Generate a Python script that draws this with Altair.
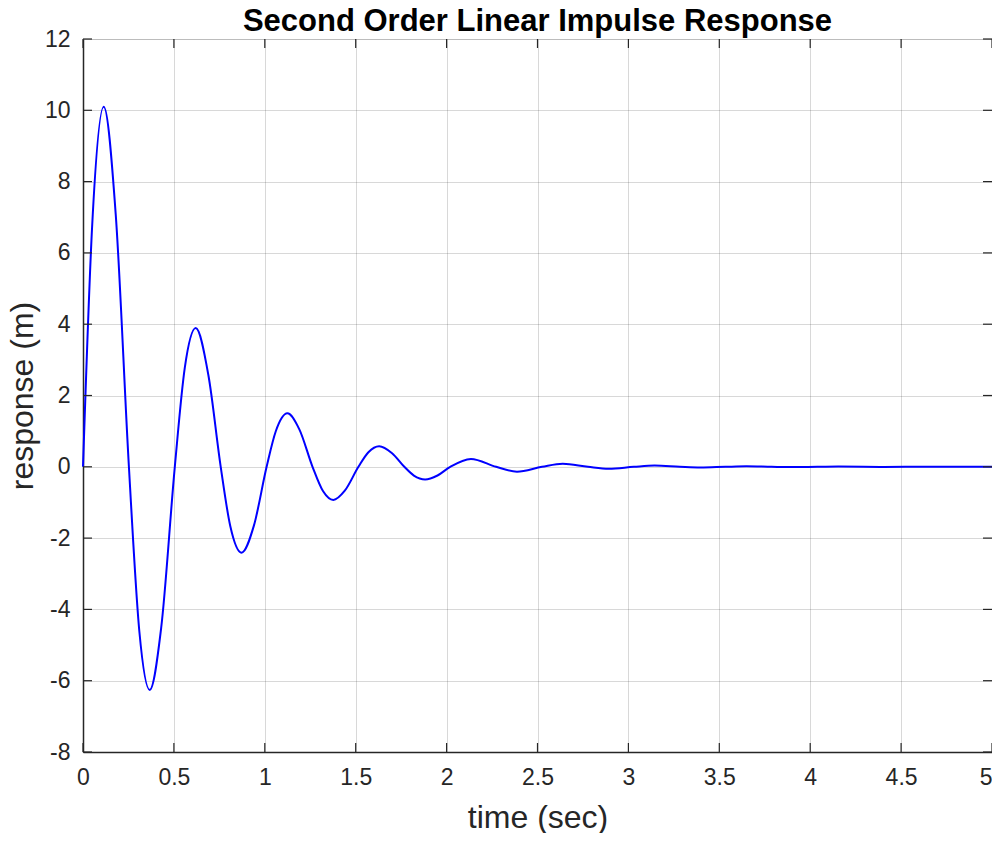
import altair as alt
import pandas as pd

# values (peaks, zero crossings and shoulders)
time_s = [0.0, 0.05, 0.114, 0.18, 0.2525, 0.31, 0.367, 0.43, 0.505, 0.56, 0.62, 0.69,
          0.7575, 0.81, 0.872, 0.94, 1.01, 1.06, 1.124, 1.19, 1.2625, 1.32, 1.377, 1.44,
          1.515, 1.57, 1.629, 1.70, 1.7675, 1.82, 1.882, 1.95, 2.02, 2.134, 2.2725, 2.387,
          2.525, 2.639, 2.7775, 2.892, 3.03, 3.144, 3.2825, 3.397, 3.535, 3.649, 3.7875,
          3.902, 4.04, 4.154, 4.2925, 4.407, 4.545, 4.66, 4.80, 5.0]
response_m = [0.0, 6.72, 10.1, 7.08, 0.0, -4.62, -6.26, -4.52, 0.0, 2.78, 3.89, 2.56,
              0.0, -1.66, -2.41, -1.65, 0.0, 0.99, 1.50, 1.05, 0.0, -0.68, -0.93, -0.67,
              0.0, 0.41, 0.576, 0.38, 0.0, -0.246, -0.357, -0.244, 0.0, 0.222, 0.0, -0.138,
              0.0, 0.086, 0.0, -0.053, 0.0, 0.033, 0.0, -0.020, 0.0, 0.013, 0.0,
              -0.008, 0.0, 0.005, 0.0, -0.003, 0.0, 0.002, 0.0, 0.0]

x_ticks = [0, 0.5, 1, 1.5, 2, 2.5, 3, 3.5, 4, 4.5, 5]
y_ticks = [-8, -6, -4, -2, 0, 2, 4, 6, 8, 10, 12]

title_text = "Second Order Linear Impulse Response"
x_title = "time (sec)"
y_title = "response (m)"

W, H = 909, 713
FONT = "Liberation Sans"
INK = "#262626"

df = pd.DataFrame({"t": time_s, "r": response_m})
xt = pd.DataFrame({"v": x_ticks})
yt = pd.DataFrame({"v": y_ticks})
tt = pd.DataFrame({"label": [title_text]})

xscale = alt.Scale(domain=[0, 5], nice=False, zero=False)
yscale = alt.Scale(domain=[-8, 12], nice=False, zero=False)

common = dict(domain=True, domainColor=INK, domainWidth=1.5, ticks=False, tickSize=0,
              labelFontSize=23, labelColor=INK, labelFont=FONT,
              labelExpr="'' + datum.value",
              titleFontSize=32, titleFont=FONT, titleColor=INK, titleFontWeight="normal",
              titleBaseline="alphabetic",
              grid=True, gridColor=INK, gridOpacity=0.18, gridWidth=1,
              labelFlush=False, labelOverlap=False)

line = alt.Chart(df).mark_line(color="#0000ff", strokeWidth=2, interpolate="monotone").encode(
    x=alt.X("t:Q", scale=xscale,
            axis=alt.Axis(values=x_ticks, title=x_title, labelPadding=14, titleY=75,
                          labelAlign={"condition": {"test": "datum.value >= 5", "value": "right"},
                                      "value": "center"},
                          **common)),
    y=alt.Y("r:Q", scale=yscale,
            axis=alt.Axis(values=y_ticks, title=y_title, labelPadding=13,
                          titleAngle=270, titleX=-51, titleY=H / 2, titleAlign="center",
                          **common)),
)

tick_len = 9
bottom_ticks = alt.Chart(xt).mark_rule(color=INK, strokeWidth=1.2).encode(
    x=alt.X("v:Q", scale=xscale), y=alt.value(H), y2=alt.value(H - tick_len))
top_ticks = alt.Chart(xt).mark_rule(color=INK, strokeWidth=1.2).encode(
    x=alt.X("v:Q", scale=xscale), y=alt.value(0), y2=alt.value(tick_len))
left_ticks = alt.Chart(yt).mark_rule(color=INK, strokeWidth=1.2).encode(
    y=alt.Y("v:Q", scale=yscale), x=alt.value(0), x2=alt.value(tick_len))
right_ticks = alt.Chart(yt).mark_rule(color=INK, strokeWidth=1.2).encode(
    y=alt.Y("v:Q", scale=yscale), x=alt.value(W), x2=alt.value(W - tick_len))

title_mark = alt.Chart(tt).mark_text(font=FONT, fontSize=31, fontWeight="bold", color="black",
                                     align="center", baseline="alphabetic").encode(
    text="label:N", x=alt.value(W / 2), y=alt.value(-8))

chart = alt.layer(line, bottom_ticks, top_ticks, left_ticks, right_ticks, title_mark).properties(
    width=W, height=H,
    autosize=alt.AutoSizeParams(type="none"),
    padding={"left": 75, "top": 31, "right": 0, "bottom": 81},
).configure_view(stroke=INK, strokeWidth=1.5).configure(background="white")

chart.save("out.html", embed_options={"renderer": "svg", "actions": False})
